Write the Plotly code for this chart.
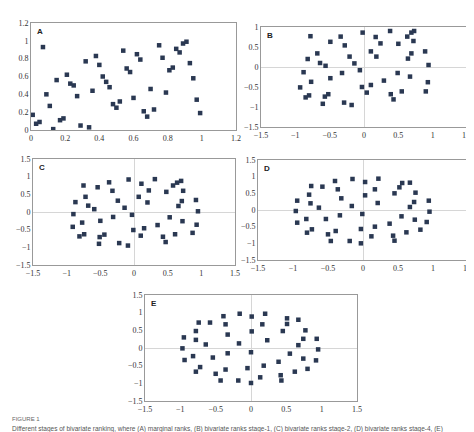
import plotly.graph_objects as go

# panel A: marginal ranks
a_x = [0.01, 0.03, 0.05, 0.07, 0.09, 0.11, 0.13, 0.15, 0.17, 0.19, 0.21, 0.23, 0.25, 0.27, 0.29, 0.32, 0.34,
       0.36, 0.38, 0.40, 0.42, 0.44, 0.46, 0.48, 0.50, 0.52, 0.54, 0.56, 0.58, 0.60, 0.62, 0.64, 0.66, 0.68,
       0.70, 0.72, 0.75, 0.77, 0.79, 0.81, 0.83, 0.85, 0.87, 0.89, 0.91, 0.93, 0.95, 0.97, 0.99]
a_y = [0.17, 0.07, 0.09, 0.93, 0.40, 0.27, 0.01, 0.56, 0.11, 0.13, 0.62, 0.52, 0.50, 0.38, 0.05, 0.77, 0.03,
       0.44, 0.83, 0.73, 0.60, 0.54, 0.48, 0.29, 0.25, 0.32, 0.89, 0.69, 0.65, 0.36, 0.85, 0.79, 0.21, 0.15,
       0.46, 0.23, 0.95, 0.81, 0.42, 0.67, 0.70, 0.91, 0.87, 0.97, 0.99, 0.75, 0.58, 0.34, 0.19]

# panel B: bivariate ranks stage-1
b_x = [-0.78, -0.49, -0.34, -0.28, -0.02, -0.68, -0.82, -0.64, -0.56, -0.21, -0.14, -0.06, -0.32, -0.49, -0.88,
       -0.77, -0.93, -0.85, -0.80, -0.57, -0.52, -0.60, -0.29, -0.18, -0.03, 0.04, 0.10, 0.17, 0.24, 0.10, 0.18,
       0.38, 0.50, 0.63, 0.69, 0.73, 0.72, 0.69, 0.64, 0.89, 0.94, 0.29, 0.49, 0.67, 0.93, 0.39, 0.43, 0.55, 0.90]
b_y = [0.77, 0.63, 0.76, 0.54, 0.86, 0.34, 0.20, 0.10, 0.03, 0.26, 0.09, -0.08, -0.15, -0.28, -0.13,
       -0.37, -0.51, -0.76, -0.71, -0.74, -0.68, -0.92, -0.89, -0.95, -0.50, -0.64, -0.45, 0.75, 0.59, 0.39, 0.26,
       0.90, 0.58, 0.76, 0.86, 0.90, 0.65, 0.34, 0.21, 0.39, 0.05, -0.34, -0.15, -0.24, -0.38, -0.68, -0.81, -0.61, -0.61]

# panel C: stage-2
c_x = [-0.75, -0.54, -0.37, -0.32, -0.08, -0.72, -0.87, -0.68, -0.59, -0.24, -0.14, -0.03, -0.31, -0.50, -0.90,
       -0.77, -0.91, -0.81, -0.74, -0.51, -0.44, -0.52, -0.22, -0.09, -0.01, 0.10, 0.15, 0.11, 0.22, 0.07, 0.20,
       0.31, 0.48, 0.58, 0.64, 0.70, 0.73, 0.71, 0.66, 0.92, 0.95, 0.35, 0.53, 0.72, 0.93, 0.43, 0.47, 0.61, 0.87]
c_y = [0.75, 0.70, 0.84, 0.60, 0.92, 0.43, 0.28, 0.18, 0.08, 0.32, 0.12, -0.08, -0.14, -0.25, -0.06,
       -0.30, -0.42, -0.69, -0.63, -0.71, -0.64, -0.90, -0.88, -0.95, -0.51, -0.67, -0.46, 0.80, 0.61, 0.43, 0.27,
       0.93, 0.57, 0.75, 0.83, 0.88, 0.60, 0.31, 0.17, 0.34, 0.02, -0.37, -0.15, -0.26, -0.36, -0.70, -0.85, -0.63, -0.59]

# panel D: stage-4
d_x = [-0.74, -0.58, -0.40, -0.36, -0.15, -0.77, -0.94, -0.75, -0.63, -0.31, -0.16, -0.01, -0.33, -0.53, -0.96,
       -0.81, -0.94, -0.80, -0.73, -0.50, -0.39, -0.46, -0.19, -0.03, -0.03, 0.12, 0.17, 0.03, 0.17, 0.03, 0.21,
       0.22, 0.45, 0.52, 0.56, 0.67, 0.75, 0.73, 0.67, 0.94, 0.95, 0.38, 0.55, 0.74, 0.91, 0.43, 0.45, 0.62, 0.82]
d_y = [0.72, 0.70, 0.87, 0.62, 0.93, 0.46, 0.28, 0.20, 0.07, 0.35, 0.12, -0.12, -0.16, -0.27, -0.03,
       -0.27, -0.38, -0.68, -0.58, -0.73, -0.63, -0.93, -0.93, -1.00, -0.57, -0.79, -0.50, 0.84, 0.62, 0.44, 0.21,
       0.94, 0.50, 0.68, 0.81, 0.82, 0.52, 0.24, 0.09, 0.28, -0.05, -0.41, -0.19, -0.29, -0.36, -0.77, -0.92, -0.67, -0.59]

# panel E
e_x = [-0.74, -0.58, -0.39, -0.36, -0.16, -0.78, -0.95, -0.78, -0.64, -0.33, -0.17, 0.00, -0.33, -0.54, -0.97,
       -0.82, -0.94, -0.78, -0.72, -0.50, -0.36, -0.43, -0.18, 0.00, -0.05, 0.13, 0.18, 0.01, 0.16, 0.01, 0.23,
       0.20, 0.45, 0.51, 0.51, 0.67, 0.77, 0.74, 0.67, 0.93, 0.95, 0.39, 0.55, 0.74, 0.92, 0.42, 0.43, 0.62, 0.80]
e_y = [0.72, 0.72, 0.90, 0.67, 0.97, 0.48, 0.30, 0.23, 0.10, 0.38, 0.13, -0.12, -0.15, -0.27, -0.01,
       -0.23, -0.34, -0.67, -0.54, -0.73, -0.61, -0.92, -0.92, -0.99, -0.57, -0.83, -0.50, 0.89, 0.67, 0.47, 0.22,
       0.97, 0.48, 0.68, 0.84, 0.80, 0.50, 0.26, 0.08, 0.26, -0.04, -0.39, -0.16, -0.30, -0.35, -0.77, -0.92, -0.67, -0.59]

W, H = 474, 432
# plot boxes in pixels: left, right, top, bottom
boxes = [(23, 228, 15, 122), (253, 459, 19, 119), (25, 227, 151, 257),
         (250, 460, 152, 252), (137, 349, 287, 393)]
panels = [("A", a_x, a_y), ("B", b_x, b_y), ("C", c_x, c_y), ("D", d_x, d_y), ("E", e_x, e_y)]

fig = go.Figure()
lay = {}
for i, ((lbl, xs, ys), (l, r, t, b)) in enumerate(zip(panels, boxes)):
    n = "" if i == 0 else str(i + 1)
    fig.add_trace(go.Scatter(x=xs, y=ys, mode="markers", xaxis="x" + n, yaxis="y" + n,
                             marker=dict(symbol="square", size=4.5, color="#2a3852"), showlegend=False))
    if lbl == "A":
        xr, yr, xd, yd = [0, 1.2], [0, 1.2], 0.2, 0.2
    else:
        xr, yr, xd, yd = [-1.5, 1.5], [-1.5, 1.0 if lbl == "B" else 1.5], 0.5, 0.5
    common = dict(showgrid=False, showline=True, mirror=True, linecolor="#999", linewidth=1,
                  zeroline=lbl != "A", zerolinecolor="#d6d6d6", zerolinewidth=1,
                  ticks="", tickfont=dict(family="Liberation Serif", size=8, color="#333"))
    lay["xaxis" + n] = dict(common, domain=[l / W, r / W], range=xr, dtick=xd,
                            anchor="y" + n)
    lay["yaxis" + n] = dict(common, domain=[1 - b / H, 1 - t / H], range=yr, dtick=yd,
                            anchor="x" + n)
    fig.add_annotation(x=(l + 4) / W, y=1 - (t + 2) / H, xref="paper", yref="paper",
                       text="<b>" + lbl + "</b>", showarrow=False, xanchor="left", yanchor="top",
                       font=dict(family="Liberation Sans", size=8, color="#222"))

fig.add_annotation(x=2 / W, y=1 - 411 / H, xref="paper", yref="paper", text="FIGURE 1",
                   showarrow=False, xanchor="left", yanchor="middle",
                   font=dict(family="Liberation Sans", size=6, color="#666"))
fig.add_annotation(x=2 / W, y=1 - 421 / H, xref="paper", yref="paper",
                   text="Different stages of bivariate ranking, where (A) marginal ranks, (B) bivariate ranks stage-1, "
                        "(C) bivariate ranks stage-2, (D) bivariate ranks stage-4, (E)",
                   showarrow=False, xanchor="left", yanchor="middle",
                   font=dict(family="Liberation Sans", size=6.5, color="#555"))

fig.update_layout(template="none", width=W, height=H, margin=dict(l=0, r=0, t=0, b=0),
                  plot_bgcolor="white", paper_bgcolor="white", **lay)
fig.write_html("out.html")
